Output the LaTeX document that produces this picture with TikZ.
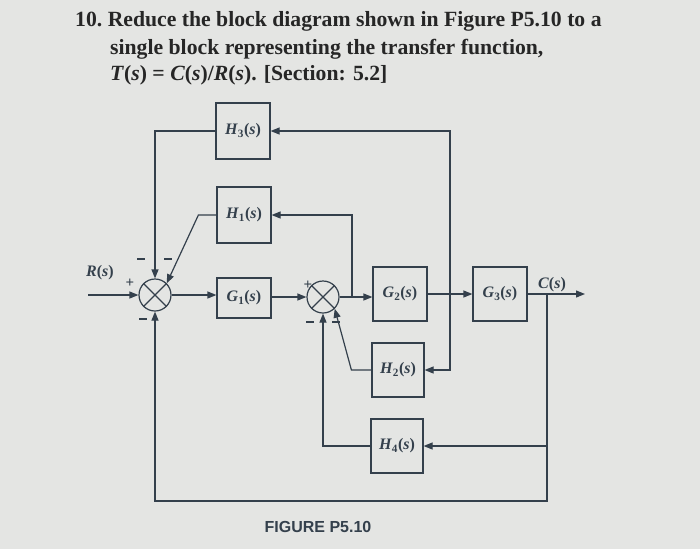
\documentclass[tikz,border=0pt]{standalone}
\usepackage{fontspec}
\setmainfont{Liberation Serif}
\newfontfamily\figfont{Liberation Sans}
\usetikzlibrary{arrows.meta}
\definecolor{ink}{HTML}{34404C}
\definecolor{paper}{HTML}{E4E5E3}
\newcommand{\tf}[2]{\textit{#1}\textsubscript{#2}(\textit{s})}
\begin{document}
\begin{tikzpicture}[x=1pt,y=-1pt,
  blk/.style={draw=ink,line width=1.2pt,minimum width=54pt,minimum height=54pt,inner sep=0pt,
    font=\bfseries\fontsize{16}{16}\selectfont,text=ink},
  sumj/.style={draw=ink,line width=1.2pt,circle,minimum size=32pt,inner sep=0pt},
  sgn/.style={font=\bfseries\fontsize{15}{15}\selectfont,text=ink,inner sep=0pt},
  minus/.style={draw=ink,line width=1.8pt},
  lab/.style={font=\bfseries\fontsize{16}{16}\selectfont,text=ink},
  line/.style={draw=ink,line width=1.2pt},
  arr/.style={line,-{Triangle[length=9pt,width=7pt]}}]
\fill[paper] (0,0) rectangle (700,549);
\useasboundingbox (0,0) rectangle (700,549);

% title
\node[anchor=base west,font=\bfseries\fontsize{21.7}{22}\selectfont,text=black!85,inner sep=0pt]
  at (75,26) {10.\ Reduce the block diagram shown in Figure P5.10 to a};
\node[anchor=base west,font=\bfseries\fontsize{21.7}{22}\selectfont,text=black!85,inner sep=0pt,
  text width=488pt,align=justify] at (110,54) {single block representing the transfer function,};
\node[anchor=base west,font=\bfseries\fontsize{21.7}{22}\selectfont,text=black!85,inner sep=0pt]
  at (110,80) {\textit{T}(\textit{s}) = \textit{C}(\textit{s})/\textit{R}(\textit{s}). [Section: 5.2]};

% blocks
\node[sumj] (s1) at (155,295) {};
\node[sumj] (s2) at (323,297) {};
\draw[line] (s1.north west) -- (s1.south east) (s1.north east) -- (s1.south west);
\draw[line] (s2.north west) -- (s2.south east) (s2.north east) -- (s2.south west);
\node[blk,minimum height=40pt] (g1) at (244,298) {\tf{G}{1}};
\node[blk,minimum height=56pt] (h1) at (244,215) {\tf{H}{1}};
\node[blk,minimum height=56pt] (h3) at (243,131) {\tf{H}{3}};
\node[blk] (g2) at (400,294) {\tf{G}{2}};
\node[blk] (g3) at (500,294) {\tf{G}{3}};
\node[blk,minimum width=52pt] (h2) at (398,370) {\tf{H}{2}};
\node[blk,minimum width=52pt] (h4) at (397,446) {\tf{H}{4}};

% points
\coordinate (in) at (88,295);
\coordinate (out) at (585,294);
\coordinate (b1) at (352,297);
\coordinate (b2) at (450,294);
\coordinate (b3) at (547,294);

\node[lab,anchor=base] at (100,276) {\textit{R}(\textit{s})};
\node[lab,anchor=base] at (552,288) {\textit{C}(\textit{s})};

% forward path
\draw[arr] (in) -- (s1.west);
\draw[arr] (s1.east) -- (g1.west |- s1.east);
\draw[arr] (g1.east |- s2.west) -- (s2.west);
\draw[arr] (s2.east) -- (g2.west |- s2.east);
\draw[arr] (g2.east) -- (g3.west);
\draw[arr] (g3.east) -- (out);

% feedback paths
\draw[arr] (b1) |- (h1.east);
\draw[arr] (h1.west) -- ++(-18,0) -- (s1.north east);
\draw[arr] (b2) |- (h3.east);
\draw[arr] (b2) |- (h2.east);
\draw[arr] (h3.west) -| (s1.north);
\draw[arr] (h2.west) -- ++(-20,0) -- (s2.south east);
\draw[arr] (b3) |- (h4.east);
\draw[arr] (h4.west) -| (s2.south);
\draw[arr] (b3) |- (155,501) -- (s1.south);

% signs
\node[sgn] at (130,283) {+};
\node[sgn] at (308,285) {+};
\draw[minus] (137,259) -- (145,259) (164,259) -- (172,259) (139,319) -- (147,319)
  (306,322) -- (314,322) (332,322) -- (340,322);

\node[font=\figfont\bfseries\fontsize{16}{16}\selectfont,text=ink] at (318,527) {FIGURE P5.10};
\end{tikzpicture}
\end{document}
